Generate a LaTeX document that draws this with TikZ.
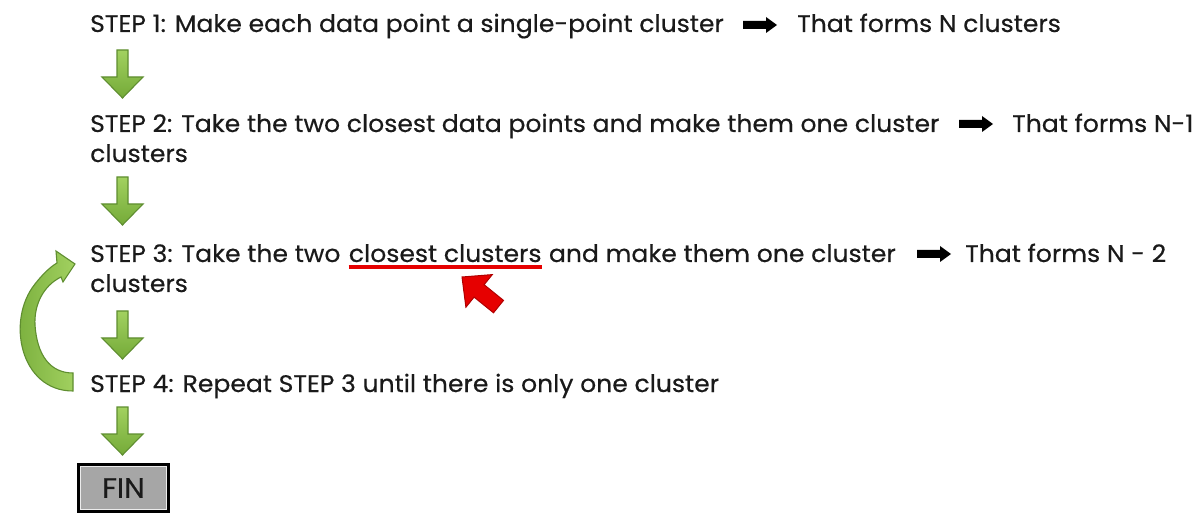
\documentclass[tikz,border=0pt]{standalone}
\usepackage{fontspec}
\setmainfont{Poppins}[FakeStretch=1.045, FakeBold=0.4]
\definecolor{txt}{HTML}{1A1A1A}
\definecolor{gl}{HTML}{A2D160}
\definecolor{gd}{HTML}{74AA38}
\definecolor{go}{HTML}{5F8E30}
\definecolor{rf}{HTML}{E60000}
\definecolor{ro}{HTML}{B00000}
\definecolor{fing}{HTML}{A6A6A6}
\begin{document}
\begin{tikzpicture}[x=1pt,y=-1pt,
  steptext/.style={anchor=base west, inner sep=0pt, font=\fontsize{24}{29}\selectfont, text=txt},
  greendown/.pic={\path[top color=gl, bottom color=gd, draw=go, line width=1.1pt, line join=miter]
     (-5.5,0) -- (5.5,0) -- (5.5,27) -- (20.5,27) -- (0,48) -- (-20.5,27) -- (-5.5,27) -- cycle;},
  blackright/.pic={\fill[black] (0,-4) -- (23,-4) -- (23,-8) -- (34,0) -- (23,8) -- (23,4) -- (0,4) -- cycle;}
]
\useasboundingbox (0,0) rectangle (1200,521);
\fill[white] (0,0) rectangle (1200,521);

% step 1
\node[steptext] (s1a) at (90,32) {STEP 1: Make each data point a single-point cluster};
\pic at (743,25) {blackright};
\node[steptext] (s1b) at (797,32) {That forms N clusters};
\pic at (122.5,50) {greendown};

% step 2
\node[steptext] (s2a) at (90,132) {STEP 2: Take the two closest data points and make them one cluster};
\pic at (959,124) {blackright};
\node[steptext] (s2b) at (1012,132) {That forms N-1};
\node[steptext] (s2c) at (90,162) {clusters};
\pic at (122.5,177) {greendown};

% step 3
\node[steptext] (s3a) at (90,262) {STEP 3: Take the two};
\node[steptext] (s3b) at ([xshift=8pt]s3a.base east) {closest clusters};
\node[steptext] (s3c) at ([xshift=7pt]s3b.base east) {and make them one cluster};
\draw[rf, line width=3.2pt] ([yshift=-5pt]s3b.base west) -- ([yshift=-5pt]s3b.base east);
\pic at (917,254) {blackright};
\node[steptext] (s3d) at (965,262) {That forms N - 2};
\node[steptext] (s3e) at (90,292) {clusters};
\pic at (122.5,311) {greendown};

% red arrow
\path[fill=rf, draw=ro, line width=1pt, line join=miter]
  (462,277) -- (492.3,274.6) -- (484.1,284.7) -- (503.5,300.4) -- (493.5,312.8) -- (474.1,297.1) -- (465.9,307.2) -- cycle;

% step 4
\node[steptext] (s4) at (90,392) {STEP 4: Repeat STEP 3 until there is only one cluster};
\pic at (122.5,407) {greendown};

% loop arrow
\path[left color=gd, right color=gl, draw=go, line width=1.1pt, line join=miter]
  (73,391) .. controls (20,391) and (6,320) .. (35,284)
  .. controls (42,275) and (50,267) .. (57,263)
  -- (56,251) -- (75,264) -- (63,282) -- (61,277)
  .. controls (43,286) and (34,305) .. (35,325)
  .. controls (37,355) and (50,373) .. (73,373) -- cycle;

% FIN
\node[draw=black, line width=3pt, fill=fing, minimum width=90pt, minimum height=47pt, inner sep=0pt,
      font=\fontsize{28}{32}\selectfont, text=txt] (fin) at (123.5,488) {FIN};
\draw[white!85!gray, line width=0.8pt] ([shift={(3.2,3.2)}]fin.north west) rectangle ([shift={(-3.2,-3.2)}]fin.south east);
\end{tikzpicture}
\end{document}
